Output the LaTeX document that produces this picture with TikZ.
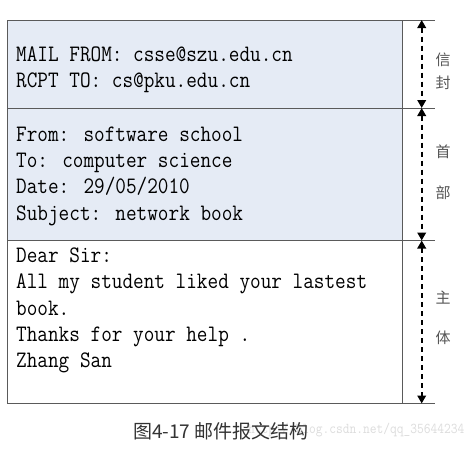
\documentclass[tikz,border=0pt]{standalone}
\usepackage{fontspec}
\usetikzlibrary{arrows.meta}
\newfontfamily\cjk{Noto Sans CJK SC}
\newcommand\sqz[1]{\scalebox{0.875}[1]{#1}}
\definecolor{boxfill}{HTML}{E5EBF5}
\definecolor{linegray}{HTML}{5A5A5A}
\definecolor{labelgray}{HTML}{555555}
\definecolor{wmark}{HTML}{DDDDDD}
\tikzset{
  txt/.style={anchor=base west, inner sep=0pt, font=\ttfamily\fontsize{23.6}{26}\selectfont, text=black},
  sidelabel/.style={inner sep=0pt, font=\cjk\fontsize{15}{18}\selectfont, text=labelgray},
  rule/.style={draw=linegray, line width=1pt},
  span/.style={line width=2.3pt, dash pattern=on 5pt off 4pt, {Triangle[length=8pt,width=8.5pt]}-{Triangle[length=8pt,width=8.5pt]}}
}
\begin{document}
\begin{tikzpicture}[x=1pt,y=-1pt]
\useasboundingbox (0,0) rectangle (474,451);
\fill[white] (0,0) rectangle (474,451);
% fills
\fill[boxfill] (7,20) rectangle (402,240.5);
% rules
\draw[rule] (7,20) -- (435,20);
\draw[rule] (7,108) -- (435,108);
\draw[rule] (7,240.5) -- (435,240.5);
\draw[rule] (7,403.5) -- (435,403.5);
\draw[rule] (7,20) -- (7,403.5);
\draw[rule] (402,20) -- (402,403.5);
% text
\node[txt] (l1) at (16,61) {\sqz{MAIL FROM: csse@szu.edu.cn}};
\node[txt] (l2) at (16,87) {\sqz{RCPT TO: cs@pku.edu.cn}};
\node[txt] (h1) at (16,141.5) {\sqz{From: software school}};
\node[txt] (h2) at (16,167.5) {\sqz{To: computer science}};
\node[txt] (h3) at (16,193.5) {\sqz{Date: 29/05/2010}};
\node[txt] (h4) at (16,220) {\sqz{Subject: network book}};
\node[txt] (b1) at (16,262) {\sqz{Dear Sir:}};
\node[txt] (b2) at (16,288) {\sqz{All my student liked your lastest}};
\node[txt] (b3) at (16,315) {\sqz{book.}};
\node[txt] (b4) at (16,341) {\sqz{Thanks for your help .}};
\node[txt] (b5) at (16,367) {\sqz{Zhang San}};
% span arrows
\coordinate (t0) at (421.7,20);
\coordinate (t1) at (421.7,108);
\coordinate (t2) at (421.7,240.5);
\coordinate (t3) at (421.7,403.5);
\draw[span] (t0) -- (t1);
\draw[span] (t1) -- (t2);
\draw[span] (t2) -- (t3);
% side labels
\node[sidelabel] (s1) at (443,60) {信};
\node[sidelabel] (s2) at (443,83) {封};
\node[sidelabel] (s3) at (443,152) {首};
\node[sidelabel] (s4) at (443,193) {部};
\node[sidelabel] (s5) at (443,298) {主};
\node[sidelabel] (s6) at (443,338) {体};
% watermark
\node[anchor=base west, inner sep=0pt, font=\ttfamily\fontsize{15}{16}\selectfont, text=wmark] (wm) at (248,433) {\sqz{http://blog.csdn.net/qq\_35644234}};
% caption
\node[inner sep=0pt, font=\cjk\fontsize{19}{22}\selectfont, text=black!80] (cap) at (221,431) {图4-17 邮件报文结构};
\end{tikzpicture}
\end{document}
